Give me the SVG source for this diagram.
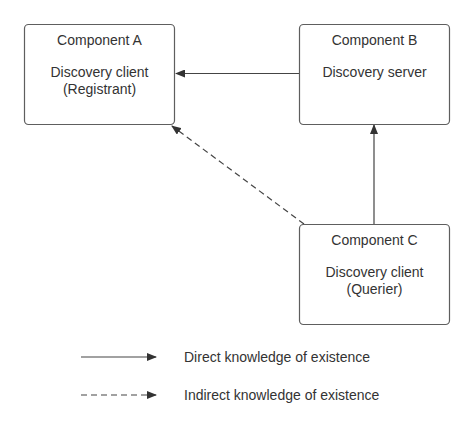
<svg xmlns="http://www.w3.org/2000/svg" width="474" height="433" viewBox="0 0 474 433">
<style>
.box{fill:#fff;stroke:#5e5e5e;stroke-width:1.2}
.t{font-family:"Liberation Sans",Arial,sans-serif;font-size:14px;fill:#333;text-anchor:middle}
.l{font-family:"Liberation Sans",Arial,sans-serif;font-size:14px;fill:#333}
.c{stroke:#444;stroke-width:1.2;fill:none}
.d{stroke-dasharray:6 4}
</style>
<defs>
<marker id="ah" markerWidth="10" markerHeight="8" refX="9" refY="4" orient="auto" markerUnits="userSpaceOnUse">
<path d="M0,0 L10,4 L0,8 Z" fill="#333"/>
</marker>
</defs>
<rect width="474" height="433" fill="#fff"/>
<g id="connectors">
<line class="c" x1="299" y1="73.5" x2="176" y2="73.5" marker-end="url(#ah)"/>
<line class="c" x1="374" y1="224" x2="374" y2="125" marker-end="url(#ah)"/>
<line class="c d" x1="304" y1="224" x2="172" y2="126" marker-end="url(#ah)"/>
<line class="c" x1="81" y1="357" x2="156" y2="357" marker-end="url(#ah)"/>
<line class="c d" x1="81" y1="395" x2="156" y2="395" marker-end="url(#ah)"/>
</g>
<g id="nodeA">
<rect class="box" x="24.5" y="24.5" width="150" height="100" rx="4"/>
<text class="t" x="99.5" y="45">Component A</text>
<text class="t" x="99.5" y="77">Discovery client</text>
<text class="t" x="99.5" y="94">(Registrant)</text>
</g>
<g id="nodeB">
<rect class="box" x="299.5" y="24.5" width="150" height="100" rx="4"/>
<text class="t" x="374.5" y="45">Component B</text>
<text class="t" x="374.5" y="77">Discovery server</text>
</g>
<g id="nodeC">
<rect class="box" x="299.5" y="224.5" width="150" height="100" rx="4"/>
<text class="t" x="374.5" y="245">Component C</text>
<text class="t" x="374.5" y="277">Discovery client</text>
<text class="t" x="374.5" y="294">(Querier)</text>
</g>
<g id="legend">
<text class="l" x="184" y="362">Direct knowledge of existence</text>
<text class="l" x="184" y="400">Indirect knowledge of existence</text>
</g>
</svg>
